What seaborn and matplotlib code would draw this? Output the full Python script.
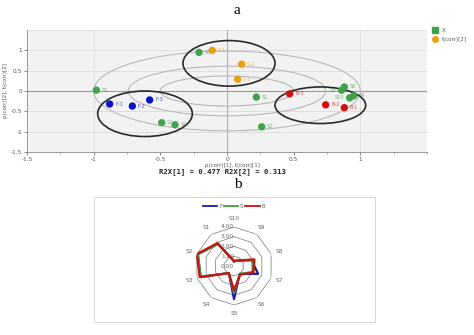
import numpy as np
import pandas as pd
import matplotlib
matplotlib.use("Agg")
import matplotlib.pyplot as plt
from matplotlib.patches import Ellipse, Rectangle
import seaborn as sns

# ---------------- data: panel a ----------------
pt_labels = ["S5", "F-1", "F-2", "F-3", "S3", "S-1", "S-2", "S-3", "S1", "S2",
             "B-3", "S7", "S4", "B-2", "B-1", "S6", "S8", "S10", "S9"]
pt_x = [-0.98, -0.88, -0.71, -0.58, -0.21, -0.11, 0.11, 0.08, 0.22, 0.26,
        0.47, -0.49, -0.39, 0.74, 0.88, 0.88, 0.86, 0.92, 0.95]
pt_y = [0.02, -0.32, -0.37, -0.22, 0.95, 1.00, 0.66, 0.29, -0.15, -0.88,
        -0.07, -0.78, -0.83, -0.34, -0.41, 0.10, 0.02, -0.17, -0.12]
pt_group = ["X", "F", "F", "F", "X", "S", "S", "S", "X", "X",
            "B", "X", "X", "B", "B", "X", "X", "X", "X"]
label_side = ["r", "r", "r", "r", "r", "r", "r", "r", "r", "r",
              "r", "r", "r", "r", "r", "r", "l", "l", "r"]
x_ticks = [-1.5, -1, -0.5, 0, 0.5, 1]
y_ticks = [-1.5, -1, -0.5, 0, 0.5, 1]

# ---------------- data: panel b ----------------
radar_cats = ["S10", "S9", "S8", "S7", "S6", "S5", "S4", "S3", "S2", "S1"]
radar_F = [0.5, 0.7, 1.9, 2.6, 1.0, 3.4, 0.9, 3.6, 3.9, 2.8]
radar_S = [0.5, 0.7, 2.0, 2.0, 1.0, 2.8, 0.9, 3.6, 3.9, 2.8]
radar_B = [0.5, 0.7, 2.2, 2.1, 1.1, 2.5, 0.9, 3.7, 4.0, 2.9]
radar_rings = [0, 1, 2, 3, 4]

W, H = 474, 335
fig = plt.figure(figsize=(W / 100, H / 100), dpi=100)
fig.patch.set_facecolor("white")

pal = {"X": "#3fa34d", "F": "#0a12c8", "S": "#e89f12", "B": "#d01010"}

# ---------------- panel a ----------------
ax = fig.add_axes([27 / W, 1 - 152 / H, 400 / W, 122 / H])
ax.set_facecolor("#f2f2f2")
ax.set_xlim(-1.5, 1.5)
ax.set_ylim(-1.5, 1.5)
for yv in y_ticks + [1.5]:
    ax.axhline(yv, color="#dcdcdc", lw=0.6, zorder=0)
for xv in [-1, 1]:
    ax.axvline(xv, color="#dcdcdc", lw=0.6, zorder=0)
ax.axhline(0, color="#9a9a9a", lw=0.8, zorder=1)
ax.axvline(0, color="#b0b0b0", lw=0.8, zorder=1)

for rx, ry in [(1.0, 0.98), (0.74, 0.61), (0.5, 0.37)]:
    ax.add_patch(Ellipse((0, 0), 2 * rx, 2 * ry, fill=False, ec="#b8b8b8", lw=0.8, zorder=1))
for cx, cy, w, h in [(0.015, 0.68, 0.69, 1.12), (-0.615, -0.56, 0.71, 1.12), (0.70, -0.35, 0.68, 0.9)]:
    ax.add_patch(Ellipse((cx, cy), w, h, fill=False, ec="#2a2a2a", lw=1.2, zorder=2))

df = pd.DataFrame({"x": pt_x, "y": pt_y, "group": pt_group, "label": pt_labels, "side": label_side})
sns.scatterplot(data=df, x="x", y="y", hue="group", palette=pal, s=28,
                edgecolor="none", legend=False, ax=ax, zorder=3)
for _, r in df.iterrows():
    off = 0.04 if r["side"] == "r" else -0.04
    ax.text(r["x"] + off, r["y"], r["label"], fontsize=3.6, color=pal[r["group"]], alpha=0.7,
            ha="left" if r["side"] == "r" else "right", va="center", zorder=4)

ax.set_xticks(x_ticks)
ax.set_xticklabels([f"{v:g}" for v in x_ticks])
ax.set_yticks(y_ticks)
ax.set_yticklabels([f"{v:g}" for v in y_ticks])
ax.set_xticks(np.arange(-1.5, 1.51, 0.25), minor=True)
ax.tick_params(axis="both", labelsize=4.2, colors="#555555", length=2, width=0.5, pad=1.5)
ax.tick_params(axis="x", which="minor", length=1.5, width=0.5, colors="#888888")
for s in ["top", "right"]:
    ax.spines[s].set_visible(False)
for s in ["left", "bottom"]:
    ax.spines[s].set_color("#888888")
    ax.spines[s].set_linewidth(0.6)
ax.set_xlabel("")
ax.set_ylabel("p(corr)[2], t(corr)[2]", fontsize=4, color="#555555", labelpad=2)

fig.text(232 / W, 1 - 165 / H, "p(corr)[1], t(corr)[1]", fontsize=4, color="#555555", ha="center", va="center")
fig.text(222 / W, 1 - 172 / H, "R2X[1] = 0.477 R2X[2] = 0.313", fontsize=5.2,
         family="DejaVu Sans Mono", color="#222222", ha="center", va="center", weight="bold")
fig.text(237 / W, 1 - 11 / H, "a", fontsize=11, family="Liberation Serif", ha="center", va="center")
fig.text(238 / W, 1 - 185 / H, "b", fontsize=11, family="Liberation Serif", ha="center", va="center")

# legend a
fig.patches.append(Rectangle((432 / W, 1 - 33 / H), 6 / W, 6 / H, transform=fig.transFigure,
                             color=pal["X"], figure=fig))
fig.text(442 / W, 1 - 30 / H, "X", fontsize=4, color="#555555", va="center")
fig.add_artist(plt.Line2D([435 / W], [1 - 39 / H], marker="o", markersize=4, color=pal["S"],
                          transform=fig.transFigure))
fig.text(442 / W, 1 - 39 / H, "t(corr)[2]", fontsize=4, color="#555555", va="center")

# ---------------- panel b ----------------
fig.patches.append(Rectangle((94 / W, 1 - 322 / H), 281 / W, 125 / H, transform=fig.transFigure,
                             fill=False, ec="#d8d8d8", lw=0.7, figure=fig))

R = 39
pax = fig.add_axes([(234 - R) / W, 1 - (266 + R) / H, 2 * R / W, 2 * R / H], projection="polar")
pax.set_theta_zero_location("N")
pax.set_theta_direction(-1)
pax.set_ylim(0, 4)
pax.grid(False)
pax.spines["polar"].set_visible(False)
pax.set_xticks([])
pax.set_yticks([])
pax.patch.set_alpha(0)

n = len(radar_cats)
theta = np.linspace(0, 2 * np.pi, n, endpoint=False)
theta_c = np.append(theta, theta[0])
for rv in radar_rings[1:]:
    pax.plot(theta_c, [rv] * (n + 1), color="#8c8c8c", lw=0.6, zorder=1)

rows = []
for name, vals in [("F", radar_F), ("S", radar_S), ("B", radar_B)]:
    vv = list(vals) + [vals[0]]
    for i, (t, v) in enumerate(zip(theta_c, vv)):
        rows.append({"theta": t, "value": v, "series": name, "order": i})
rdf = pd.DataFrame(rows)
sns.lineplot(data=rdf, x="theta", y="value", hue="series", sort=False, estimator=None,
             palette={"F": "#1a1aa8", "S": "#3aa33a", "B": "#cc1111"}, lw=1.6,
             ax=pax, legend=False, zorder=3)
pax.set_xlabel("")
pax.set_ylabel("")
pax.set_xticks([])
pax.set_yticks([])
pax.set_ylim(0, 4)

for t, c in zip(theta, radar_cats):
    pax.text(t, 4.85, c, fontsize=4.2, color="#666666", ha="center", va="center")
for rv in radar_rings:
    pax.text(0, rv, f"{rv:.2f}", fontsize=4.2, color="#666666", ha="right", va="center", zorder=2)

handles = [plt.Line2D([], [], color=c, lw=1.3) for c in ["#1a1aa8", "#3aa33a", "#cc1111"]]
fig.legend(handles, ["F", "S", "B"], loc="center", bbox_to_anchor=(234 / W, 1 - 206 / H), ncol=3,
           frameon=False, fontsize=4, handlelength=2.6, handletextpad=0.3, columnspacing=0.3,
           labelcolor="#666666")

fig.savefig("out.png", dpi=100)
